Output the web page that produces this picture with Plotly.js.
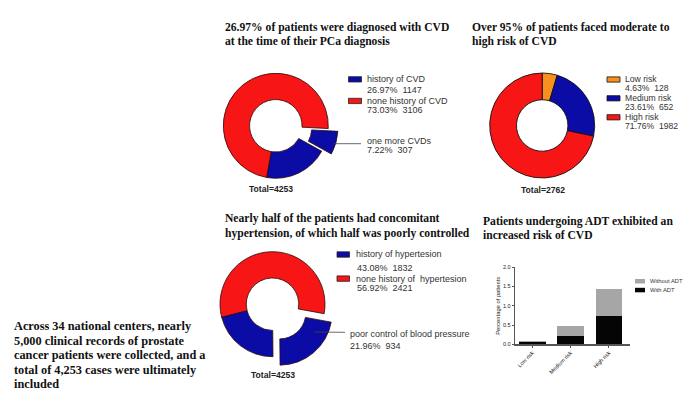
<!DOCTYPE html>
<html><head><meta charset="utf-8">
<script src="https://cdn.plot.ly/plotly-3.0.1.min.js"></script>
<style>html,body{margin:0;padding:0;background:#fff}#chart{width:700px;height:397px}</style>
</head><body><div id="chart"></div>
<script>
// ---------- DATA ----------
// Panel 1: history of CVD (blue split into "one more CVDs" pulled part and the rest)
const cvdLabels = ['one more CVDs', 'history of CVD (single CVD)', 'none history of CVD'];
const cvdValues = [307, 840, 3106];
const cvdLegend = ['history of CVD', 'none history of CVD'];
const cvdLegendStats = ['26.97%  1147', '73.03%  3106'];
const cvdCallout = ['one more CVDs', '7.22%  307'];
const cvdTotal = 'Total=4253';

// Panel 2: CVD risk level
const riskLabels = ['Low risk', 'Medium risk', 'High risk'];
const riskValues = [128, 652, 1982];
const riskLegendStats = ['4.63%  128', '23.61%  652', '71.76%  1982'];
const riskTotal = 'Total=2762';

// Panel 3: hypertension
const htnLabels = ['none history of hypertesion', 'poor control of blood pressure', 'history of hypertesion (controlled)'];
const htnValues = [2421, 934, 898];
const htnLegend = ['history of hypertesion', 'none history of  hypertesion'];
const htnLegendStats = ['43.08%  1832', '56.92%  2421'];
const htnCallout = ['poor control of blood pressure', '21.96%  934'];
const htnTotal = 'Total=4253';

// Panel 4: ADT bars (stacked)
const adtCategories = ['Low risk', 'Medium risk', 'High risk'];
const withADT = [0.05, 0.21, 0.74];
const withoutADT = [0.04, 0.26, 0.70];
const adtSeries = ['Without ADT', 'With ADT'];

// Texts
const title1 = ['26.97% of patients were diagnosed with CVD', 'at the time of their PCa diagnosis'];
const title2 = ['Over 95% of patients faced moderate to', 'high risk of CVD'];
const title3 = ['Nearly half of the patients had concomitant', 'hypertension, of which half was poorly controlled'];
const title4 = ['Patients undergoing ADT exhibited an', 'increased risk of CVD'];
const introText = ['Across 34 national centers, nearly', '5,000 clinical records of prostate',
  'cancer patients were collected, and a', 'total of 4,253 cases were ultimately', 'included'];

// ---------- STYLE / LAYOUT HELPERS ----------
const W = 700, H = 397;
const fx = x => x / W, fy = y => 1 - y / H;
const RED = '#F71515', BLUE = '#0B0BA6', ORANGE = '#F8901E';
const SERIF = 'Liberation Serif, Times New Roman, serif';
const SANS = 'Liberation Sans, Arial, sans-serif';

function domainFor(cx, cy, r, pull) {
  const h = r * (1 + pull);
  return { x: [fx(cx - h), fx(cx + h)], y: [fy(cy + h), fy(cy - h)] };
}

const annotations = [];
const shapes = [];
function txt(x, y, text, size, family, color, xanchor) {
  annotations.push({ xref: 'paper', yref: 'paper', x: fx(x), y: fy(y), text: text,
    showarrow: false, xanchor: xanchor || 'left', yanchor: 'middle',
    font: { size: size, family: family, color: color }, borderpad: 0 });
}
function rect(x0, y0, x1, y1, fill, line) {
  shapes.push({ type: 'rect', xref: 'paper', yref: 'paper', x0: fx(x0), x1: fx(x1), y0: fy(y1), y1: fy(y0),
    fillcolor: fill, line: { color: line || fill, width: line ? 0.8 : 0 } });
}
function seg(x0, y0, x1, y1) {
  shapes.push({ type: 'line', xref: 'paper', yref: 'paper', x0: fx(x0), x1: fx(x1), y0: fy(y0), y1: fy(y1),
    line: { color: '#444', width: 0.8 } });
}
function titleLines(lines, x, y0, size) {
  lines.forEach((l, i) => txt(x, y0 + i * 14.3, '<b>' + l + '</b>', size, SERIF, '#111'));
}

// Titles
titleLines(title1, 224, 27, 11.6);
titleLines(title2, 471, 27.3, 11.6);
titleLines(title3, 224, 219, 11.6);
titleLines(title4, 482, 221, 11.6);
introText.forEach((l, i) => txt(13, 326 + i * 14.5, '<b>' + l + '</b>', 12.3, SERIF, '#111'));

// Panel 1 legend
rect(348.5, 76.7, 361.5, 82, BLUE, '#222');
rect(348.5, 98.3, 361.5, 103.6, RED, '#222');
txt(366, 79.3, cvdLegend[0], 9, SANS, '#333');
txt(366, 89.5, cvdLegendStats[0], 9, SANS, '#333');
txt(366, 100.8, cvdLegend[1], 9, SANS, '#333');
txt(366, 110.5, cvdLegendStats[1], 9, SANS, '#333');
seg(334, 143.7, 361, 143.7);
txt(366, 141, cvdCallout[0], 9, SANS, '#333');
txt(366, 150, cvdCallout[1], 9, SANS, '#333');
txt(271, 188.5, '<b>' + cvdTotal + '</b>', 8.6, SANS, '#222', 'center');

// Panel 2 legend
const riskColors = [ORANGE, BLUE, RED];
const riskY = [79.5, 98.3, 117.3];
riskY.forEach((y, i) => {
  rect(607, y - 2.6, 620, y + 2.6, riskColors[i], '#111');
  txt(624.3, y, riskLabels[i], 8.6, SANS, '#333');
  txt(624.3, y + 8.6, riskLegendStats[i], 8.6, SANS, '#333');
});
txt(543, 190, '<b>' + riskTotal + '</b>', 8.6, SANS, '#222', 'center');

// Panel 3 legend
rect(337, 251.8, 349.5, 257.2, BLUE, '#222');
rect(337, 275.9, 349.5, 281.3, RED, '#222');
txt(355, 254.3, htnLegend[0], 9, SANS, '#333');
txt(356, 267.5, htnLegendStats[0], 9, SANS, '#333');
txt(355, 278.5, htnLegend[1], 9, SANS, '#333');
txt(356, 287.8, htnLegendStats[1], 9, SANS, '#333');
seg(314, 332, 345, 332.3);
txt(348.5, 334.3, htnCallout[0], 9, SANS, '#333');
txt(348.5, 345.5, htnCallout[1], 9, SANS, '#333');
txt(273, 375, '<b>' + htnTotal + '</b>', 8.6, SANS, '#222', 'center');

// Panel 4 legend
rect(635, 279, 645, 283.5, '#A6A6A6');
rect(635, 287.8, 645, 292.3, '#050505');
txt(648.5, 281.2, adtSeries[0], 5.8, SANS, '#333');
txt(648.5, 290, adtSeries[1], 5.8, SANS, '#333');

// ---------- TRACES ----------
const pieCommon = { type: 'pie', sort: false, direction: 'clockwise', textinfo: 'none',
  hoverinfo: 'label+value+percent', showlegend: false };

const traces = [
  Object.assign({}, pieCommon, {
    labels: cvdLabels, values: cvdValues, rotation: 93, hole: 0.5, pull: [0.19, 0, 0],
    marker: { colors: [BLUE, BLUE, RED], line: { color: '#2a0a0a', width: 0.8 } },
    domain: domainFor(275.8, 125.8, 52.5, 0.19)
  }),
  Object.assign({}, pieCommon, {
    labels: riskLabels, values: riskValues, rotation: 0, hole: 0.49,
    marker: { colors: riskColors, line: { color: '#111', width: 0.9 } },
    domain: domainFor(542.2, 125.5, 52.5, 0)
  }),
  Object.assign({}, pieCommon, {
    labels: htnLabels, values: htnValues, rotation: 255.5, hole: 0.5, pull: [0, 0.21, 0],
    marker: { colors: [RED, BLUE, BLUE], line: { color: '#2a0a0a', width: 0.8 } },
    domain: domainFor(272.5, 304.2, 52.5, 0.21)
  }),
  { type: 'bar', name: adtSeries[1], x: adtCategories, y: withADT, marker: { color: '#050505' },
    xaxis: 'x', yaxis: 'y', showlegend: false },
  { type: 'bar', name: adtSeries[0], x: adtCategories, y: withoutADT, marker: { color: '#A6A6A6' },
    xaxis: 'x', yaxis: 'y', showlegend: false }
];

const layout = {
  width: W, height: H, margin: { l: 0, r: 0, t: 0, b: 0 },
  paper_bgcolor: '#fff', plot_bgcolor: 'rgba(0,0,0,0)',
  showlegend: false, barmode: 'stack', bargap: 0.3,
  xaxis: { domain: [fx(515), fx(630)], range: [-0.45, 2.55], anchor: 'y',
    showline: true, linecolor: '#555', linewidth: 1.3, ticks: 'outside', ticklen: 2, tickwidth: 1,
    tickcolor: '#555', tickangle: -45, tickfont: { size: 5.5, family: SANS, color: '#222' },
    showgrid: false, zeroline: false, fixedrange: true },
  yaxis: { domain: [fy(344.3), fy(267.3)], range: [0, 2], dtick: 0.5, tickformat: '.1f', anchor: 'x',
    showline: true, linecolor: '#555', linewidth: 1.3, ticks: 'outside', ticklen: 2, tickwidth: 1,
    tickcolor: '#555', tickfont: { size: 5.5, family: SANS, color: '#222' },
    title: { text: 'Percentage of patients', font: { size: 5.8, family: SANS, color: '#222' }, standoff: 2 },
    showgrid: false, zeroline: false, fixedrange: true },
  annotations: annotations, shapes: shapes
};

Plotly.newPlot('chart', traces, layout, { displayModeBar: false, staticPlot: true });
</script>
</body></html>
